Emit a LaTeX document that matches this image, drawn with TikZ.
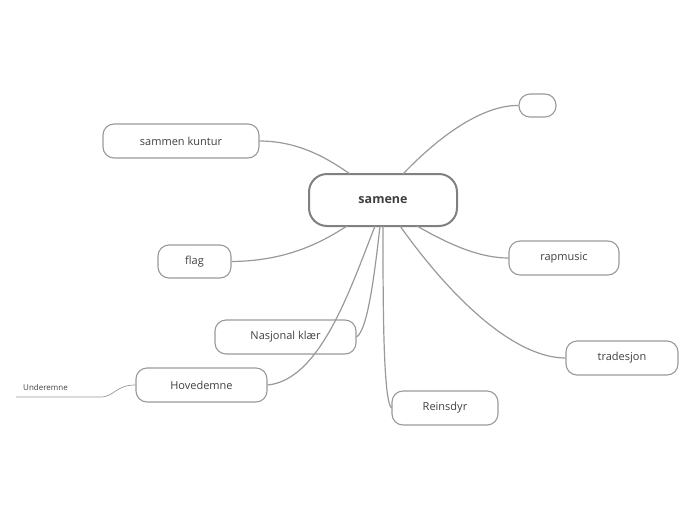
\documentclass[tikz,border=0pt]{standalone}
\usepackage{fontspec}
\setmainfont{Open Sans}
\begin{document}
\begin{tikzpicture}[x=1pt,y=-1pt,
  topic/.style={draw=black!40,line width=1.1pt,rounded corners=11pt,text=black!75,font=\fontsize{11}{13}\selectfont,inner sep=0pt},
  link/.style={draw=black!40,line width=1.2pt}]
\useasboundingbox (0,0) rectangle (696,520);
\node[draw=black!50,line width=2pt,rounded corners=18pt,minimum width=148pt,minimum height=52pt,text=black!75,font=\fontsize{12.5}{15}\selectfont\bfseries] (c) at (383,200) {samene};
\node[topic,minimum width=37pt,minimum height=23pt] (e) at (537.5,105.5) {};
\node[topic,minimum width=156pt,minimum height=34pt] (sk) at (181,141) {sammen kuntur};
\node[topic,minimum width=73pt,minimum height=33pt] (fl) at (194.5,261.5) {flag};
\node[topic,minimum width=110pt,minimum height=34pt] (rm) at (564,258) {rapmusic};
\node[topic,minimum width=141pt,minimum height=34pt] (nk) at (285.5,337) {Nasjonal klær};
\node[topic,minimum width=112pt,minimum height=34pt] (tr) at (622,358) {tradesjon};
\node[topic,minimum width=131pt,minimum height=34pt] (hv) at (201.5,385) {Hovedemne};
\node[topic,minimum width=106pt,minimum height=34pt] (rd) at (445,408) {Reinsdyr};
\node[text=black!75,font=\fontsize{8}{10}\selectfont,anchor=south west,inner sep=1pt] (ue) at (22,392) {Underemne};
\coordinate (c1) at (350,174);
\coordinate (c2) at (403,174);
\coordinate (c3) at (347,226);
\coordinate (c4) at (417,226);
\coordinate (c5) at (380,226);
\coordinate (c6) at (400,226);
\coordinate (c7) at (375,226);
\coordinate (c8) at (383,226);
\coordinate (u1) at (16,397);
\coordinate (u2) at (100,397);
\draw[link] (sk.east) .. controls (300,141) and (330,160) .. (c1);
\draw[link] (c2) .. controls (450,125) and (490,105) .. (e.west);
\draw[link] (fl.east) .. controls (290,261) and (325,240) .. (c3);
\draw[link] (c4) .. controls (450,245) and (480,258) .. (rm.west);
\draw[link] (nk.east) .. controls (368,330) and (375,270) .. (c5);
\draw[link] (c6) .. controls (460,310) and (520,358) .. (tr.west);
\draw[link] (hv.east) .. controls (320,380) and (350,290) .. (c7);
\draw[link] (rd.west) .. controls (383,400) and (383,300) .. (c8);
\draw[draw=black!40,line width=0.7pt] (u1) -- (u2) .. controls (115,397) and (115,385) .. (hv.west);
\end{tikzpicture}
\end{document}
